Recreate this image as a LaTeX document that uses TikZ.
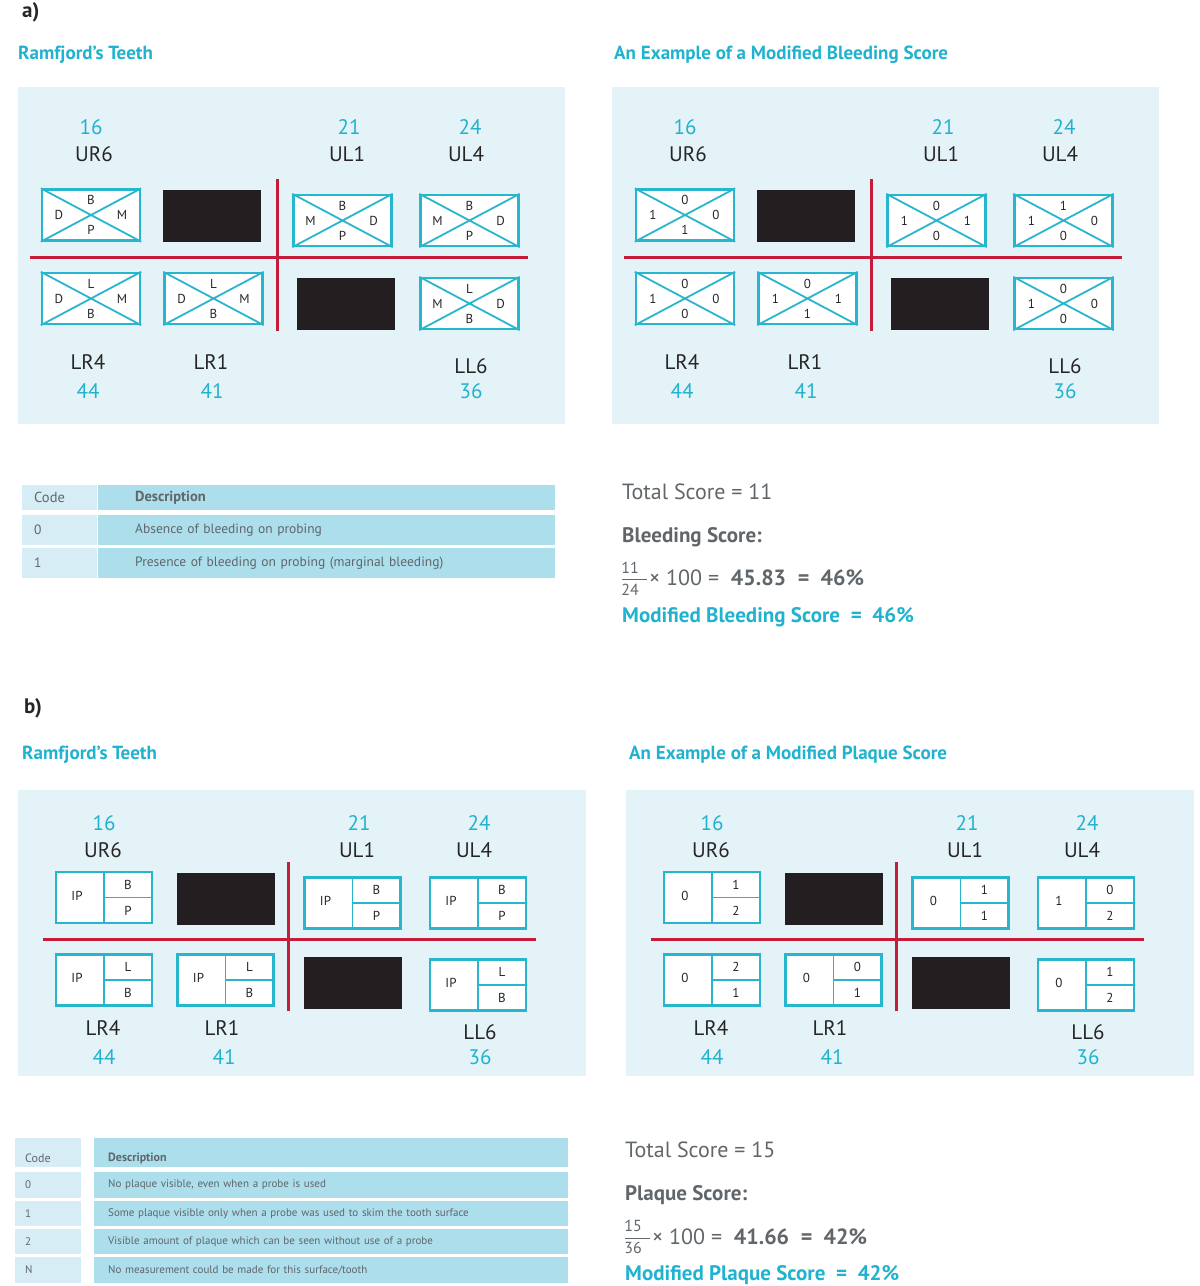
\documentclass[tikz,border=0pt]{standalone}
\usepackage{amsmath}
\usepackage{fontspec}
\setmainfont{PT Sans}
\usetikzlibrary{positioning, calc}

\definecolor{toothcyan}{RGB}{40,182,206}
\definecolor{numcyan}{RGB}{32,178,206}
\definecolor{midred}{RGB}{196,28,58}
\definecolor{panelbg}{RGB}{228,243,248}
\definecolor{descfill}{RGB}{172,222,236}
\definecolor{codefill}{RGB}{214,237,245}
\definecolor{inkgray}{RGB}{96,102,106}
\definecolor{toothblack}{RGB}{35,31,32}

\tikzset{
    xbox/.style={draw=toothcyan, fill=white, line width=2.4pt, minimum width=98pt, minimum height=51pt, inner sep=0pt},
    sbox/.style={draw=toothcyan, fill=white, line width=2.4pt, minimum width=96pt, minimum height=51pt, inner sep=0pt},
    missing/.style={fill=toothblack, minimum width=98pt, minimum height=52pt, inner sep=0pt},
    toothline/.style={draw=toothcyan, line width=1.8pt},
    midline/.style={draw=midred, line width=3pt},
    fracbar/.style={draw=inkgray, line width=0.9pt},
    boxlbl/.style={font=\fontsize{13}{13}\selectfont, text=black!85, inner sep=0pt},
    fdi/.style={font=\fontsize{21}{21}\selectfont, text=numcyan, inner sep=0pt},
    quad/.style={font=\fontsize{21}{21}\selectfont, text=black!85, inner sep=0pt},
    heading/.style={font=\bfseries\fontsize{19}{19}\selectfont, text=numcyan, anchor=west, inner sep=0pt},
    part/.style={font=\bfseries\fontsize{21}{21}\selectfont, text=black!85, anchor=west, inner sep=0pt},
    score/.style={font=\fontsize{22}{22}\selectfont, text=inkgray, anchor=west, inner sep=0pt},
    scorebold/.style={font=\bfseries\fontsize{21}{21}\selectfont, text=inkgray, anchor=west, inner sep=0pt},
    fracnum/.style={font=\fontsize{16}{16}\selectfont, text=inkgray, inner sep=0pt},
    result/.style={font=\bfseries\fontsize{21}{21}\selectfont, text=numcyan, anchor=west, inner sep=0pt},
    acode/.style={fill=codefill, anchor=west, inner xsep=12pt, inner ysep=0pt, text width=51pt, align=left, text=inkgray, font=\fontsize{13.5}{13.5}\selectfont},
    adesc/.style={fill=descfill, anchor=west, inner xsep=37pt, inner ysep=0pt, text width=383pt, align=left, text=inkgray, font=\fontsize{13.5}{13.5}\selectfont},
    bcode/.style={fill=codefill, anchor=west, inner xsep=10pt, inner ysep=0pt, text width=46pt, align=left, text=inkgray, font=\fontsize{11}{11}\selectfont},
    bdesc/.style={fill=descfill, anchor=west, inner xsep=14pt, inner ysep=0pt, text width=446pt, align=left, text=inkgray, font=\fontsize{11}{11}\selectfont},
}

% tooth with four sites: name, centre, top, left, right, bottom
\newcommand{\crossbox}[6]{%
    \node[xbox] (#1) at (#2) {};
    \draw[toothline] (#1.north west) -- (#1.south east) (#1.south west) -- (#1.north east);
    \node[boxlbl] (#1-t) at ([yshift=15pt]#1.center) {#3};
    \node[boxlbl] (#1-l) at ([xshift=-32pt]#1.center) {#4};
    \node[boxlbl] (#1-r) at ([xshift=31pt]#1.center) {#5};
    \node[boxlbl] (#1-b) at ([yshift=-15pt]#1.center) {#6};
}

% tooth with three sites: name, centre, left, right top, right bottom
\newcommand{\splitbox}[5]{%
    \node[sbox] (#1) at (#2) {};
    \draw[toothline] (#1.north) -- (#1.south) (#1.center) -- (#1.east);
    \node[boxlbl] (#1-l) at ([xshift=-27pt,yshift=2pt]#1.center) {#3};
    \node[boxlbl] (#1-rt) at ([xshift=24pt,yshift=13pt]#1.center) {#4};
    \node[boxlbl] (#1-rb) at ([xshift=24pt,yshift=-13pt]#1.center) {#5};
}

% panel of the bleeding chart
\newcommand{\teethA}[1]{%
    \fill[panelbg] (18,87) rectangle (565,424);
    \node[fdi] (#1-16) at (91,127) {16};
    \node[quad] (#1-ur6) at (94,154) {UR6};
    \node[fdi] (#1-21) at (349,127) {21};
    \node[quad] (#1-ul1) at (347,154) {UL1};
    \node[fdi] (#1-24) at (470,127) {24};
    \node[quad] (#1-ul4) at (466,154) {UL4};
    \node[quad] (#1-lr4) at (88,362) {LR4};
    \node[fdi] (#1-44) at (88,391) {44};
    \node[quad] (#1-lr1) at (211,362) {LR1};
    \node[fdi] (#1-41) at (212,391) {41};
    \node[quad] (#1-ll6) at (471,366) {LL6};
    \node[fdi] (#1-36) at (471,391) {36};
    \node[missing] (#1-m1) at (212,216) {};
    \node[missing] (#1-m2) at (346,303.5) {};
    \coordinate (#1-n) at (277,179);
    \coordinate (#1-s) at (277,331);
    \coordinate (#1-w) at (30,257);
    \coordinate (#1-e) at (528,257);
    \draw[midline] (#1-n) -- (#1-s) (#1-w) -- (#1-e);
}

% panel of the plaque chart
\newcommand{\teethB}[1]{%
    \fill[panelbg] (18,790) rectangle (586,1076);
    \node[fdi] (#1-16) at (104,823) {16};
    \node[quad] (#1-ur6) at (103,850) {UR6};
    \node[fdi] (#1-21) at (359,823) {21};
    \node[quad] (#1-ul1) at (357,850) {UL1};
    \node[fdi] (#1-24) at (479,823) {24};
    \node[quad] (#1-ul4) at (474,850) {UL4};
    \node[quad] (#1-lr4) at (103,1028) {LR4};
    \node[fdi] (#1-44) at (104,1057) {44};
    \node[quad] (#1-lr1) at (222,1028) {LR1};
    \node[fdi] (#1-41) at (224,1057) {41};
    \node[quad] (#1-ll6) at (480,1032) {LL6};
    \node[fdi] (#1-36) at (480,1057) {36};
    \node[missing] (#1-m1) at (225.5,899) {};
    \node[missing] (#1-m2) at (352.5,983) {};
    \coordinate (#1-n) at (288,862);
    \coordinate (#1-s) at (288,1011);
    \coordinate (#1-w) at (43,939);
    \coordinate (#1-e) at (536,939);
    \draw[midline] (#1-n) -- (#1-s) (#1-w) -- (#1-e);
}

\begin{document}
\begin{tikzpicture}[x=1pt, y=-1pt]
    \useasboundingbox (0,0) rectangle (1200,1286);

    % a) bleeding
    \node[part] (parta) at (22,12) {a)};
    \node[heading] (ramfa) at (18,55) {Ramfjord’s Teeth};
    \node[heading] (exa) at (614,55) {An Example of a Modified Bleeding Score};

    \teethA{aL}
    \crossbox{aL-t16}{91,215}{B}{D}{M}{P}
    \crossbox{aL-t21}{342.5,220.5}{B}{M}{D}{P}
    \crossbox{aL-t24}{469.5,220.5}{B}{M}{D}{P}
    \crossbox{aL-t44}{91,298.5}{L}{D}{M}{B}
    \crossbox{aL-t41}{213.5,298.5}{L}{D}{M}{B}
    \crossbox{aL-t36}{469.5,303.5}{L}{M}{D}{B}

    \begin{scope}[xshift=594pt]
        \teethA{aR}
        \crossbox{aR-t16}{91,215}{0}{1}{0}{1}
        \crossbox{aR-t21}{342.5,220.5}{0}{1}{1}{0}
        \crossbox{aR-t24}{469.5,220.5}{1}{1}{0}{0}
        \crossbox{aR-t44}{91,298.5}{0}{1}{0}{0}
        \crossbox{aR-t41}{213.5,298.5}{0}{1}{1}{1}
        \crossbox{aR-t36}{469.5,303.5}{0}{1}{0}{0}
    \end{scope}

    % bleeding codes
    \node[acode, minimum height=25pt, font=\fontsize{14.5}{14.5}\selectfont] (aT-hc) at (22,497.5) {Code};
    \node[adesc, minimum height=25pt, font=\bfseries\fontsize{14.5}{14.5}\selectfont] (aT-hd) at (98,497.5) {Description};
    \node[acode, minimum height=30pt] (aT-c0) at (22,530) {0};
    \node[adesc, minimum height=30pt] (aT-d0) at (98,530) {Absence of bleeding on probing};
    \node[acode, minimum height=30pt] (aT-c1) at (22,563) {1};
    \node[adesc, minimum height=30pt] (aT-d1) at (98,563) {Presence of bleeding on probing (marginal bleeding)};

    \node[score] (aS-tot) at (622,492) {Total Score = 11};
    \node[scorebold] (aS-lbl) at (622,537) {Bleeding Score:};
    \node[fracnum] (aS-num) at (630,568) {11};
    \node[fracnum] (aS-den) at (630,590) {24};
    \coordinate (aS-bl) at (622,579);
    \coordinate (aS-br) at (647,579);
    \draw[fracbar] (aS-bl) -- (aS-br);
    \node[score] (aS-calc) at (649,578) {× 100 =\ \ \textbf{45.83}\ \ \textbf{=\ \ 46\%}};
    \node[result] (aS-res) at (622,617) {Modified Bleeding Score\ \ =\ \ 46\%};

    % b) plaque
    \node[part] (partb) at (24,708) {b)};
    \node[heading] (ramfb) at (22,755) {Ramfjord’s Teeth};
    \node[heading] (exb) at (629,755) {An Example of a Modified Plaque Score};

    \teethB{bL}
    \splitbox{bL-t16}{104,897.5}{IP}{B}{P}
    \splitbox{bL-t21}{352.5,903}{IP}{B}{P}
    \splitbox{bL-t24}{478,903}{IP}{B}{P}
    \splitbox{bL-t44}{104,980}{IP}{L}{B}
    \splitbox{bL-t41}{225.5,980}{IP}{L}{B}
    \splitbox{bL-t36}{478,985}{IP}{L}{B}

    \begin{scope}[xshift=608pt]
        \teethB{bR}
        \splitbox{bR-t16}{104,897.5}{0}{1}{2}
        \splitbox{bR-t21}{352.5,903}{0}{1}{1}
        \splitbox{bR-t24}{478,903}{1}{0}{2}
        \splitbox{bR-t44}{104,980}{0}{2}{1}
        \splitbox{bR-t41}{225.5,980}{0}{0}{1}
        \splitbox{bR-t36}{478,985}{0}{1}{2}
    \end{scope}

    % plaque codes
    \node[bcode, minimum height=29pt, font=\fontsize{12}{12}\selectfont] (bT-hc) at (15,1152.5) {\raisebox{-9.5pt}[0pt][0pt]{Code}};
    \node[bdesc, minimum height=29pt, font=\bfseries\fontsize{12}{12}\selectfont] (bT-hd) at (94,1152.5) {\raisebox{-9pt}[0pt][0pt]{Description}};
    \node[bcode, minimum height=26pt] (bT-c0) at (15,1185) {0};
    \node[bdesc, minimum height=26pt] (bT-d0) at (94,1185) {No plaque visible, even when a probe is used};
    \node[bcode, minimum height=25pt] (bT-c1) at (15,1213.5) {1};
    \node[bdesc, minimum height=25pt] (bT-d1) at (94,1213.5) {Some plaque visible only when a probe was used to skim the tooth surface};
    \node[bcode, minimum height=25pt] (bT-c2) at (15,1241.5) {2};
    \node[bdesc, minimum height=25pt] (bT-d2) at (94,1241.5) {Visible amount of plaque which can be seen without use of a probe};
    \node[bcode, minimum height=26pt] (bT-c3) at (15,1270) {N};
    \node[bdesc, minimum height=26pt] (bT-d3) at (94,1270) {No measurement could be made for this surface/tooth};

    \node[score] (bS-tot) at (625,1150) {Total Score = 15};
    \node[scorebold] (bS-lbl) at (625,1195) {Plaque Score:};
    \node[fracnum] (bS-num) at (633,1226) {15};
    \node[fracnum] (bS-den) at (633,1248) {36};
    \coordinate (bS-bl) at (625,1238);
    \coordinate (bS-br) at (650,1238);
    \draw[fracbar] (bS-bl) -- (bS-br);
    \node[score] (bS-calc) at (652,1237) {× 100 =\ \ \textbf{41.66}\ \ \textbf{=\ \ 42\%}};
    \node[result] (bS-res) at (625,1275) {Modified Plaque Score\ \ =\ \ 42\%};
\end{tikzpicture}
\end{document}
